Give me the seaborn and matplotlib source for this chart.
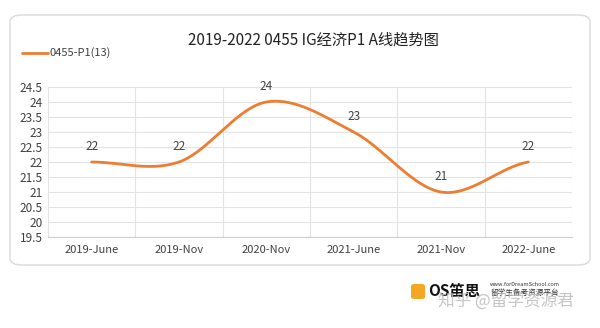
import numpy as np
import pandas as pd
import seaborn as sns
import matplotlib.pyplot as plt
from matplotlib.patches import FancyBboxPatch
from matplotlib.lines import Line2D

categories = ["2019-June", "2019-Nov", "2020-Nov", "2021-June", "2021-Nov", "2022-June"]
values = [22, 22, 24, 23, 21, 22]
series_name = "0455-P1(13)"
title = "2019-2022 0455 IG经济P1 A线趋势图"
yticks = [19.5, 20, 20.5, 21, 21.5, 22, 22.5, 23, 23.5, 24, 24.5]

sns.set_theme(style="white")
plt.rcParams['font.family'] = ['Noto Sans CJK SC', 'DejaVu Sans']

W, H = 600, 328
fig = plt.figure(figsize=(6, 3.28), dpi=100)

# rounded card
card = FancyBboxPatch((10 / W, 63 / H), 580 / W, 250 / H,
                      boxstyle="round,pad=0,rounding_size=0.02",
                      transform=fig.transFigure, facecolor="white",
                      edgecolor="#d9d9d9", linewidth=1.0, zorder=-5)
fig.patches.append(card)

ax = fig.add_axes([48 / W, (H - 237) / H, 524 / W, 150 / H])
ax.set_zorder(2)
ax.set_facecolor("none")
ax.patch.set_alpha(0)

# smooth curve (Catmull-Rom) through data points, for display only
x = np.arange(len(values), dtype=float)
y = np.array(values, dtype=float)
px = np.concatenate([[2 * x[0] - x[1]], x, [2 * x[-1] - x[-2]]])
py = np.concatenate([[y[0]], y, [y[-1]]])
xs, ys = [], []
for i in range(1, len(px) - 2):
    t = np.linspace(0, 1, 40)
    p0, p1, p2, p3 = (np.array([px[j], py[j]]) for j in range(i - 1, i + 3))
    tt = t[:, None]
    pts = 0.5 * ((2 * p1) + (-p0 + p2) * tt + (2 * p0 - 5 * p1 + 4 * p2 - p3) * tt ** 2
                 + (-p0 + 3 * p1 - 3 * p2 + p3) * tt ** 3)
    xs.extend(pts[:, 0]); ys.extend(pts[:, 1])
curve = pd.DataFrame({"x": xs, "y": ys})
sns.lineplot(data=curve, x="x", y="y", ax=ax, color="#ED7D31", linewidth=2.0,
             sort=False, estimator=None, zorder=5)

for xi, v in zip(x, values):
    ax.annotate(f"{v:g}", (xi, v), xytext=(0, 11.5), textcoords="offset points",
                ha="center", va="center", fontsize=8.5, color="#404040")

ax.set_xlim(-0.5, len(categories) - 0.5)
ax.set_ylim(19.5, 24.5)
ax.set_yticks(yticks)
ax.set_yticklabels([f"{t:g}" for t in yticks])
ax.set_xticks(x)
ax.set_xticklabels(categories)
ax.set_xticks(np.arange(-0.5, len(categories), 1.0), minor=True)
ax.tick_params(axis="x", which="major", length=0, pad=6, labelsize=8, labelcolor="#404040")
ax.tick_params(axis="x", which="minor", length=5, color="#d0d0d0", width=0.8, direction="out")
ax.tick_params(axis="y", length=0, pad=4, labelsize=8.5, labelcolor="#404040")
ax.set_xlabel("")
ax.set_ylabel("")

ax.grid(False)
for yt in yticks:
    ax.axhline(yt, color="#e3e3e3", linewidth=0.8, zorder=0)
for b in np.arange(-0.5, len(categories), 1.0):
    ax.axvline(b, color="#e3e3e3", linewidth=0.8, zorder=0)
for s in ["top", "right", "left"]:
    ax.spines[s].set_visible(False)
ax.spines["bottom"].set_color("#d0d0d0")
ax.spines["bottom"].set_linewidth(0.8)

# title and legend
fig.text(313 / W, 1 - 40 / H, title, ha="center", va="center", fontsize=11, color="#222222")
fig.lines.append(Line2D([22 / W, 48 / W], [1 - 53 / H, 1 - 53 / H], transform=fig.transFigure,
                        color="#ED7D31", linewidth=2))
fig.text(50 / W, 1 - 53 / H, series_name, ha="left", va="center", fontsize=8, color="#404040")

# watermark
logo = FancyBboxPatch((411 / W, 1 - 299 / H), 14 / W, 15 / H,
                      boxstyle="round,pad=0,rounding_size=0.006",
                      transform=fig.transFigure, facecolor="#F5A623", edgecolor="none")
fig.patches.append(logo)
fig.text(428 / W, 1 - 291 / H, "OS笛思", ha="left", va="center", fontsize=11,
         fontweight="bold", color="#111111")
fig.text(490 / W, 1 - 285 / H, "www.forDreamSchool.com", ha="left", va="center",
         fontsize=4, color="#333333")
fig.text(490 / W, 1 - 293 / H, "留学生备考资源平台", ha="left", va="center",
         fontsize=5.5, color="#333333")
fig.text(438 / W, 1 - 301 / H, "知乎 @留学资源君", ha="left", va="center",
         fontsize=12, color="#bbbbbb", alpha=0.85)

fig.savefig("out.png", dpi=100)
